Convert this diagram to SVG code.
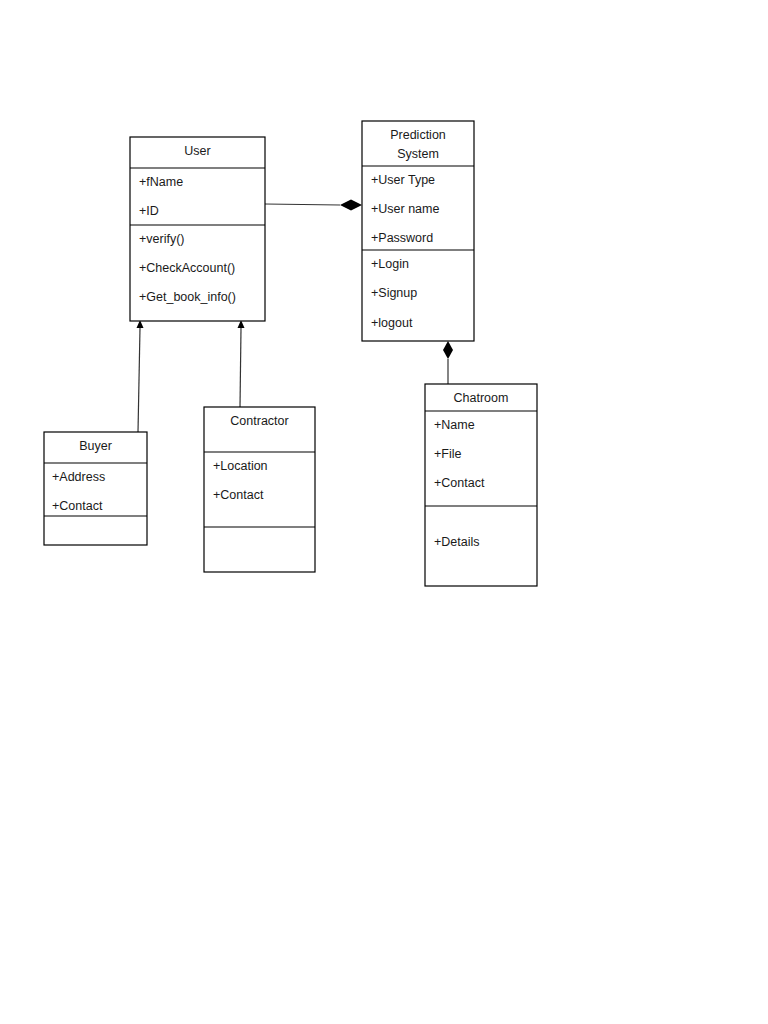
<svg xmlns="http://www.w3.org/2000/svg" width="768" height="1024" viewBox="0 0 768 1024">
<style>
.box{fill:#fff;stroke:#000;stroke-width:1.2}
.div{stroke:#000;stroke-width:1.2}
text{font-family:"Liberation Sans",Arial,sans-serif;font-size:12.5px;fill:#1a1a1a}
.c{text-anchor:middle}
.ln{stroke:#333;stroke-width:1.2;fill:none}
</style>
<defs>
<marker id="tri" markerWidth="8" markerHeight="8" refX="4" refY="0" orient="auto" markerUnits="userSpaceOnUse" viewBox="-4 -1 8 9">
<path d="M-3.5,7 L0,0 L3.5,7 Z" fill="#000" transform="translate(4,0)"/>
</marker>
</defs>
<rect width="768" height="1024" fill="#fff"/>
<g id="connectors">
<line class="ln" x1="265" y1="204" x2="340" y2="205"/>
<path d="M340,205 L351,199.5 L362,205 L351,210.5 Z" fill="#000"/>
<line class="ln" x1="448" y1="384" x2="448" y2="359"/>
<path d="M448,341 L453,350 L448,359 L443,350 Z" fill="#000"/>
<line class="ln" x1="138" y1="432" x2="140" y2="328"/>
<path d="M140,320 L143.5,328 L136.5,328 Z" fill="#000"/>
<line class="ln" x1="240" y1="407" x2="241" y2="328"/>
<path d="M241,320 L244.5,328 L237.5,328 Z" fill="#000"/>
</g>
<g id="user">
<rect class="box" x="130" y="137" width="135" height="184"/>
<line class="div" x1="130" y1="168" x2="265" y2="168"/>
<line class="div" x1="130" y1="225" x2="265" y2="225"/>
<text class="c" x="197.5" y="155">User</text>
<text x="139" y="186">+fName</text>
<text x="139" y="215">+ID</text>
<text x="139" y="243">+verify()</text>
<text x="139" y="272">+CheckAccount()</text>
<text x="139" y="301">+Get_book_info()</text>
</g>
<g id="prediction-system">
<rect class="box" x="362" y="121" width="112" height="220"/>
<line class="div" x1="362" y1="166" x2="474" y2="166"/>
<line class="div" x1="362" y1="250" x2="474" y2="250"/>
<text class="c" x="418" y="139">Prediction</text>
<text class="c" x="418" y="158">System</text>
<text x="371" y="184">+User Type</text>
<text x="371" y="213">+User name</text>
<text x="371" y="242">+Password</text>
<text x="371" y="268">+Login</text>
<text x="371" y="297">+Signup</text>
<text x="371" y="327">+logout</text>
</g>
<g id="chatroom">
<rect class="box" x="425" y="384" width="112" height="202"/>
<line class="div" x1="425" y1="411" x2="537" y2="411"/>
<line class="div" x1="425" y1="506" x2="537" y2="506"/>
<text class="c" x="481" y="402">Chatroom</text>
<text x="434" y="429">+Name</text>
<text x="434" y="458">+File</text>
<text x="434" y="487">+Contact</text>
<text x="434" y="546">+Details</text>
</g>
<g id="buyer">
<rect class="box" x="44" y="432" width="103" height="113"/>
<line class="div" x1="44" y1="463" x2="147" y2="463"/>
<line class="div" x1="44" y1="516" x2="147" y2="516"/>
<text class="c" x="95.5" y="450">Buyer</text>
<text x="52" y="481">+Address</text>
<text x="52" y="510">+Contact</text>
</g>
<g id="contractor">
<rect class="box" x="204" y="407" width="111" height="165"/>
<line class="div" x1="204" y1="452" x2="315" y2="452"/>
<line class="div" x1="204" y1="527" x2="315" y2="527"/>
<text class="c" x="259.5" y="425">Contractor</text>
<text x="213" y="470">+Location</text>
<text x="213" y="499">+Contact</text>
</g>
</svg>
